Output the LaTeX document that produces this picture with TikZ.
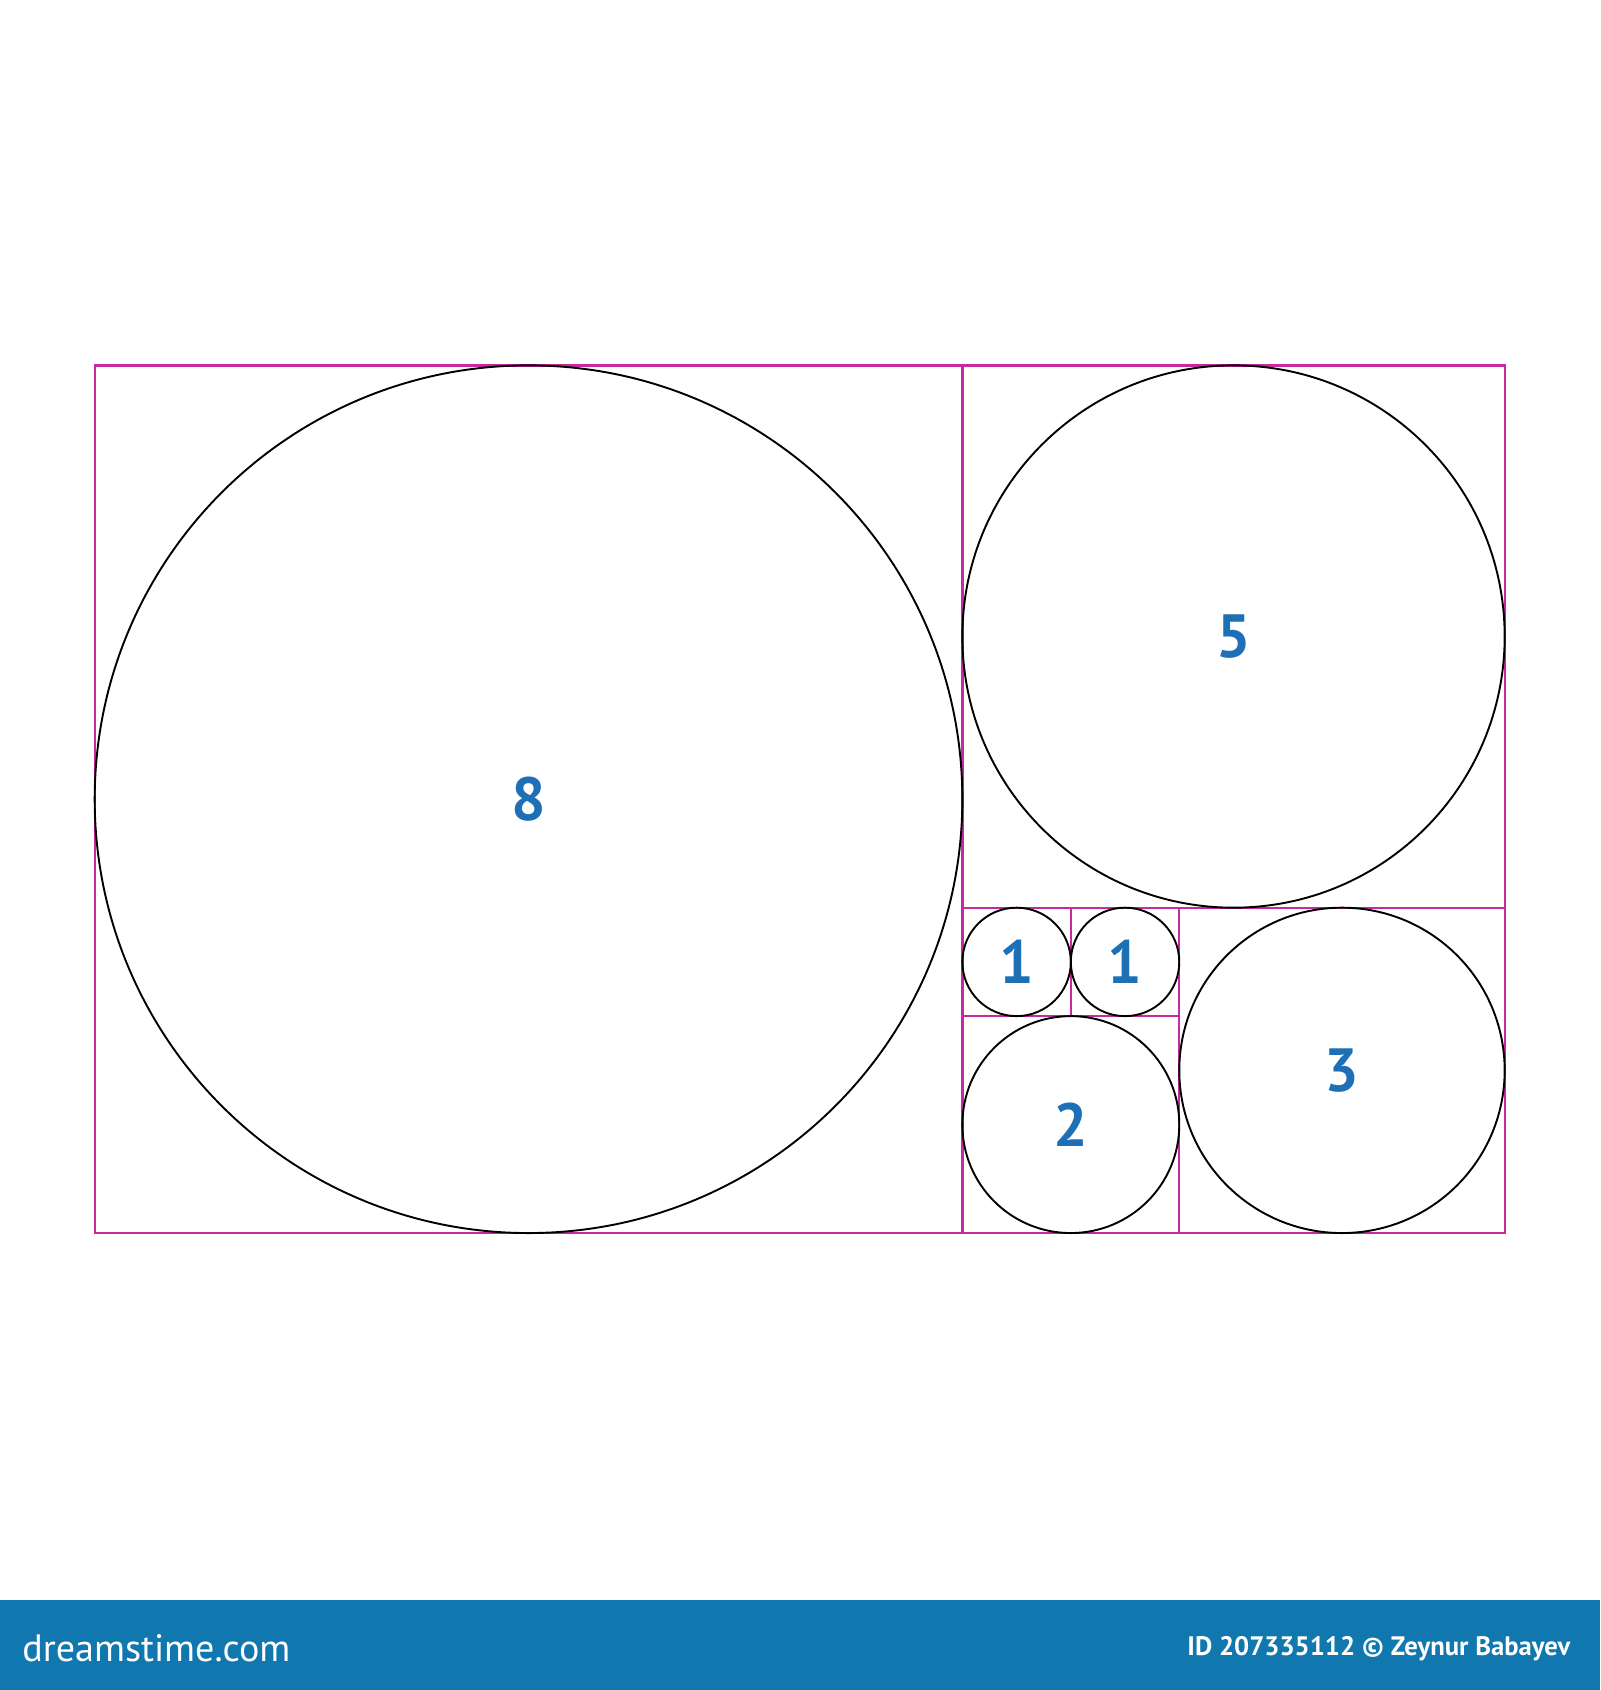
\documentclass[tikz,border=0pt]{standalone}
\usepackage{fontspec}
\setsansfont{PT Sans}
\usetikzlibrary{positioning}
\definecolor{gridpink}{RGB}{200,40,160}
\definecolor{numblue}{RGB}{30,112,182}
\definecolor{barblue}{RGB}{16,119,175}

\begin{document}
\begin{tikzpicture}[
    font=\sffamily,
    % square frames
    frame/.style={
        draw=gridpink,
        line width=0.6pt
    },
    % inscribed circles with their number
    ring/.style={
        circle,
        draw=black,
        line width=0.5pt,
        inner sep=0pt,
        text=numblue,
        font=\sffamily\bfseries\fontsize{16}{16}\selectfont
    },
    % footer text
    bartext/.style={
        text=white,
        inner sep=0pt
    }
]
    \useasboundingbox (-0.873,-4.213) rectangle (13.879,11.369);

    % --- 1. Squares ---
    \draw[frame] (0,0) rectangle (13,8);
    \draw[frame] (8,0) -- (8,8);
    \draw[frame] (8,3) -- (13,3);
    \draw[frame] (10,0) -- (10,3);
    \draw[frame] (8,2) -- (10,2);
    \draw[frame] (9,2) -- (9,3);

    % --- 2. Circles ---
    \node[ring, minimum size=8cm] (c8) at (4,4) {8};
    \node[ring, minimum size=5cm] (c5) at (10.5,5.5) {5};
    \node[ring, minimum size=3cm] (c3) at (11.5,1.5) {3};
    \node[ring, minimum size=2cm] (c2) at (9,1) {2};
    \node[ring, minimum size=1cm] (c1a) at (8.5,2.5) {1};
    \node[ring, minimum size=1cm] (c1b) at (9.5,2.5) {1};

    % --- 3. Footer bar ---
    \fill[barblue] (-0.873,-4.213) rectangle (13.879,-3.383);
    \node[bartext, anchor=west, font=\sffamily\fontsize{10}{10}\selectfont] (brand) at (-0.674,-3.83) {dreamstime.com};
    \node[bartext, anchor=east, font=\sffamily\bfseries\fontsize{7}{7}\selectfont] (credit) at (13.612,-3.83) {ID 207335112 © Zeynur Babayev};

\end{tikzpicture}
\end{document}
